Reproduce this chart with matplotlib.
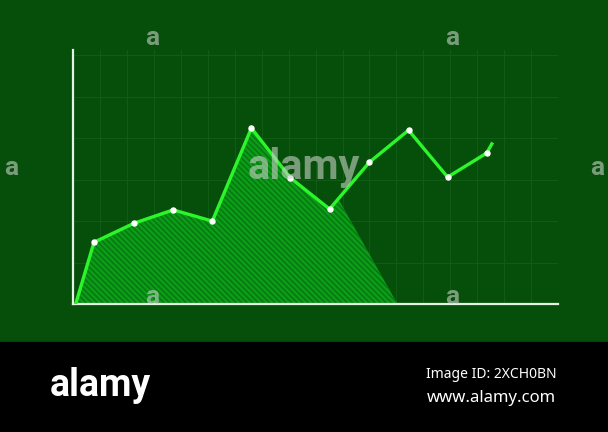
import matplotlib
matplotlib.use("Agg")
import matplotlib.pyplot as plt
from matplotlib.patches import Polygon, Rectangle

# data (grid units)
x_vals = [0.1, 0.78, 2.27, 3.72, 5.17, 6.62, 8.07, 9.52, 11.0, 12.45, 13.9, 15.35, 15.54]
y_vals = [0.0, 1.49, 1.95, 2.27, 2.0, 4.24, 3.04, 2.29, 3.42, 4.19, 3.06, 3.64, 3.86]
marker_idx = list(range(1, 12))
reveal_x = 12.04      # where the shaded area stops on the x axis
reveal_slope = 0.866  # leftward shift per y unit of the shaded edge

bg = "#064f0a"
plt.rcParams["hatch.linewidth"] = 1.2
fig = plt.figure(figsize=(6.08, 4.32), dpi=100, facecolor=bg)
ax = fig.add_axes([0.120, 0.296, 0.798, 0.588])
ax.set_facecolor(bg)
ax.set_xlim(0, 18)
ax.set_ylim(0, 6.12)

# faint grid
for gx in range(1, 19):
    ax.axvline(gx, color="#125d16", lw=0.7, zorder=0)
for gy in range(1, 7):
    ax.axhline(gy, color="#125d16", lw=0.7, zorder=0)

# shaded area, cut along a slanted edge
fill = ax.fill_between(x_vals, 0, y_vals, facecolor="#0c9e18", edgecolor="#077a12",
                       hatch="\\\\\\\\\\\\", linewidth=0, zorder=1)
clip = Polygon([(0, 0), (reveal_x, 0), (reveal_x - 7 * reveal_slope, 7), (0, 7)],
               closed=True, transform=ax.transData)
fill.set_clip_path(clip)

ax.plot(x_vals, y_vals, color="#2cf52c", lw=2.4, solid_joinstyle="miter", zorder=3)
ax.plot([x_vals[i] for i in marker_idx], [y_vals[i] for i in marker_idx], "o",
        color="white", ms=3.6, zorder=4)

for s in ["top", "right"]:
    ax.spines[s].set_visible(False)
for s in ["left", "bottom"]:
    ax.spines[s].set_color("#e4f2e4")
    ax.spines[s].set_linewidth(1.6)
ax.set_xticks([])
ax.set_yticks([])

# watermark marks
wm = dict(color="#c8d0c8", alpha=0.6, fontweight="bold", ha="center", va="center",
          family="Roboto")
for (px, py) in [(152, 38), (452, 38), (11, 168), (597, 168), (152, 297), (452, 297)]:
    fig.text(px / 608, 1 - py / 432, "a", fontsize=19, **wm)
fig.text(304 / 608, 1 - 168 / 432, "alamy", fontsize=30, **wm)

# bottom banner
fig.patches.append(Rectangle((0, 0), 1, 90 / 432, transform=fig.transFigure,
                             color="black", zorder=5))
fig.text(100 / 608, 1 - 385 / 432, "alamy", color="white", fontsize=27,
         fontweight="bold", family="Roboto", ha="center", va="center", zorder=6)
fig.text(491 / 608, 1 - 375 / 432, "Image ID: 2XCH0BN", color="white", fontsize=10,
         family="Noto Sans", ha="center", va="center", zorder=6)
fig.text(491 / 608, 1 - 398 / 432, "www.alamy.com", color="white", fontsize=12,
         fontweight="bold", family="Noto Sans", ha="center", va="center", zorder=6)

fig.savefig("out.png", dpi=100, facecolor=bg)
